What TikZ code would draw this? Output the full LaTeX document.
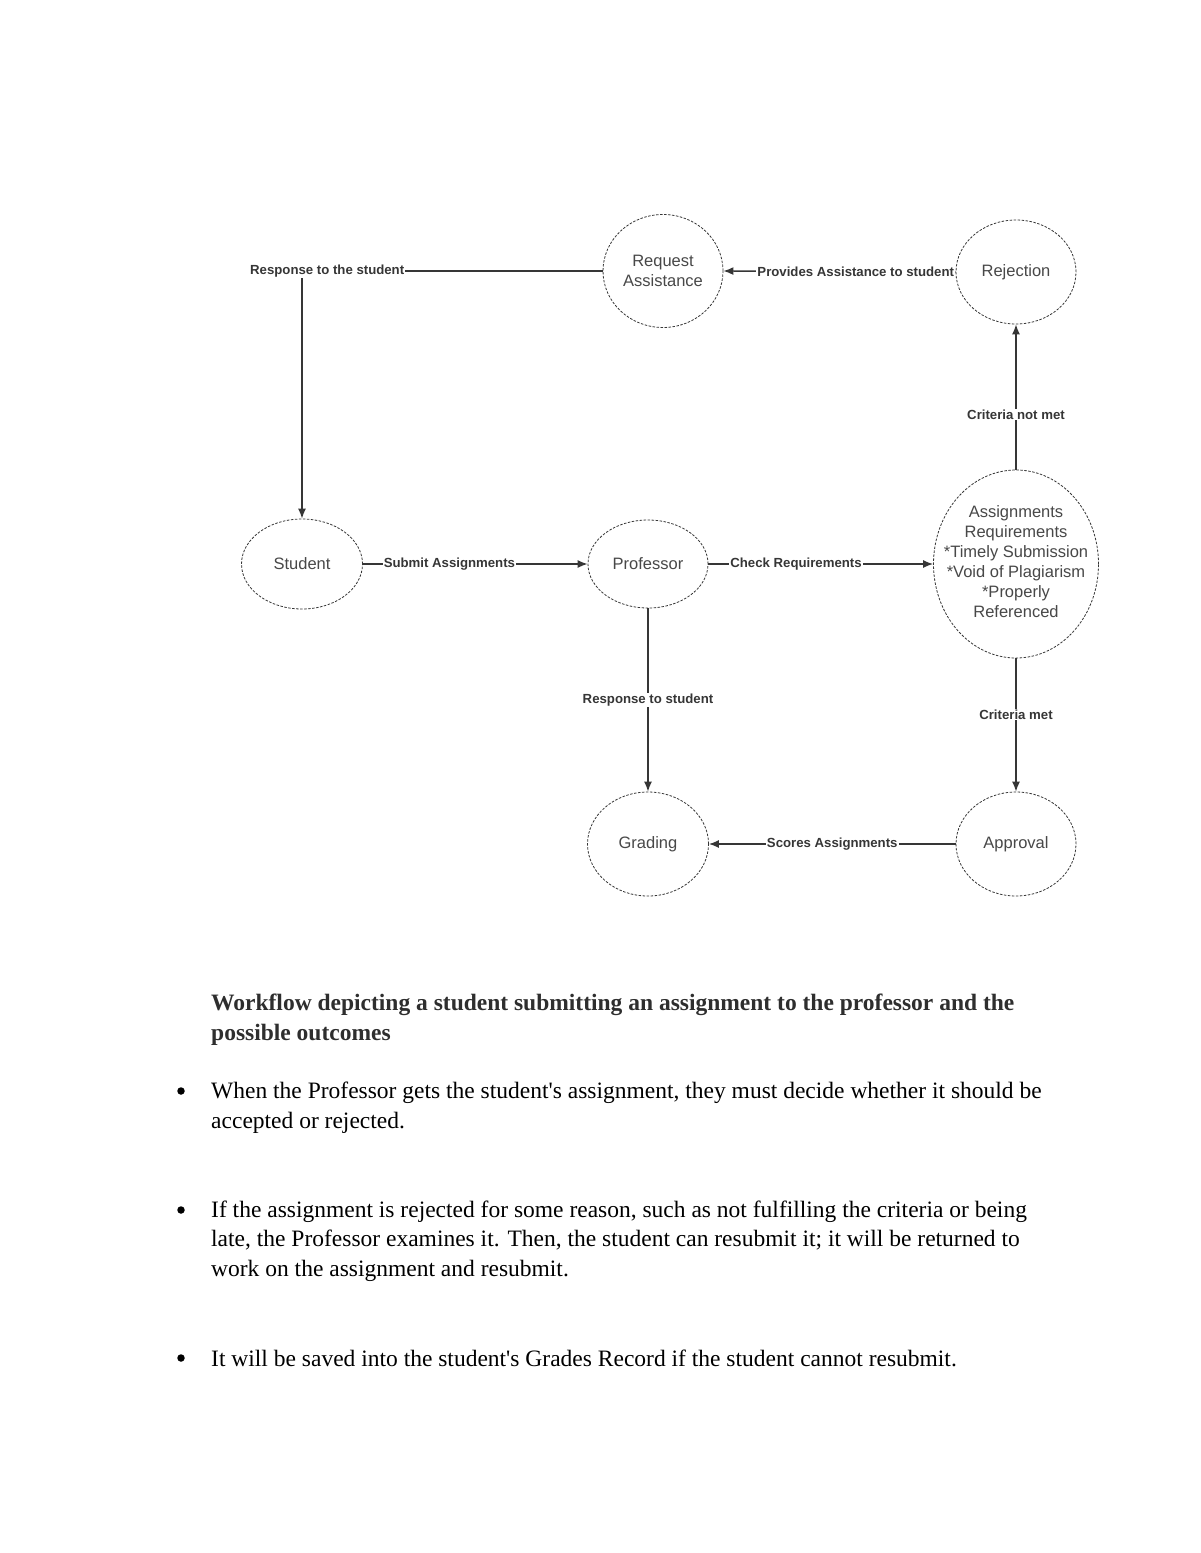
\documentclass[tikz,border=0pt]{standalone}
\usepackage{fontspec}
\setmainfont{Liberation Serif}[Ligatures=TeXOff]
\setsansfont{Liberation Sans}
\usetikzlibrary{shapes.geometric,arrows.meta}
\definecolor{ln}{HTML}{363636}
\definecolor{nodetxt}{HTML}{484848}
\tikzset{
  circ/.style={ellipse,draw=ln,dash pattern=on 2.5pt off 1.5pt,line width=0.8pt,inner sep=0pt},
  ctxt/.style={font=\sffamily\fontsize{16.5}{20}\selectfont,text=nodetxt,align=center,inner sep=0pt},
  conn/.style={draw=ln,line width=1.4pt},
  arr/.style={conn,-{Latex[length=10pt,width=8pt]}},
  elbl/.style={fill=white,inner sep=1pt,font=\sffamily\bfseries\fontsize{13.2}{15}\selectfont,text=ln},
  para/.style={anchor=base west,inner sep=0pt,font=\fontsize{23.5}{28}\selectfont,text=black},
  bul/.style={circle,fill=black,inner sep=0pt,minimum size=7.5pt}
}
\begin{document}
\begin{tikzpicture}[x=1pt,y=-1pt]
\useasboundingbox (0,0) rectangle (1200,1553);
\fill[white] (0,0) rectangle (1200,1553);
% nodes
\node[circ,minimum width=120pt,minimum height=113pt] (ra) at (663,271) {};
\node[ctxt] (rat) at (ra.center) {Request\\Assistance};
\node[circ,minimum width=120pt,minimum height=104pt] (rej) at (1016,272) {};
\node[ctxt] (rejt) at (rej.center) {Rejection};
\node[circ,minimum width=121pt,minimum height=90pt] (stu) at (302,564) {};
\node[ctxt] (stut) at (stu.center) {Student};
\node[circ,minimum width=120pt,minimum height=88pt] (prof) at (648,564) {};
\node[ctxt] (proft) at (prof.center) {Professor};
\node[circ,minimum width=165pt,minimum height=188pt] (req) at (1016,564) {};
\node[ctxt] (reqt) at (1016,562) {Assignments\\Requirements\\*Timely Submission\\*Void of Plagiarism\\*Properly\\Referenced};
\node[circ,minimum width=121pt,minimum height=104pt] (grd) at (648,844) {};
\node[ctxt] (grdt) at (grd.center) {Grading};
\node[circ,minimum width=120pt,minimum height=104pt] (app) at (1016,844) {};
\node[ctxt] (appt) at (app.center) {Approval};
% connectors
\node[elbl,anchor=west] (l1) at (249,271) {Response to the student};
\draw[conn] (ra.west) -- (l1.east);
\draw[arr] (l1.south -| stu.north) -- (stu.north);
\draw[arr] (rej.west) -- node[elbl,pos=0.43] (l2) {Provides Assistance to student} (ra.east);
\draw[arr] (req.north) -- node[elbl,pos=0.38] (l3) {Criteria not met} (rej.south);
\draw[arr] (stu.east) -- node[elbl,pos=0.385] (l4) {Submit Assignments} (prof.west);
\draw[arr] (prof.east) -- node[elbl,pos=0.39] (l5) {Check Requirements} (req.west);
\draw[arr] (prof.south) -- node[elbl,pos=0.5] (l6) {Response to student} (grd.north);
\draw[arr] (req.south) -- node[elbl,pos=0.42] (l7) {Criteria met} (app.north);
\draw[arr] (app.west) -- node[elbl,pos=0.5] (l8) {Scores Assignments} (grd.east);
% text
\node[para,font=\bfseries\fontsize{23.5}{28}\selectfont,text=black!82] (t1) at (211,1010) {Workflow depicting a student submitting an assignment to the professor and the};
\node[para,font=\bfseries\fontsize{23.5}{28}\selectfont,text=black!82] (t2) at (211,1040) {possible outcomes};
\node[bul] (b1) at (181,1091) {};
\node[para] (p1) at (211,1098) {When the Professor gets the student's assignment, they must decide whether it should be};
\node[para] (p2) at (211,1128) {accepted or rejected.};
\node[bul] (b2) at (181,1210) {};
\node[para] (p3) at (211,1217) {If the assignment is rejected for some reason, such as not fulfilling the criteria or being};
\node[para] (p4) at (211,1246) {late, the Professor examines it. Then, the student can resubmit it; it will be returned to};
\node[para] (p5) at (211,1276) {work on the assignment and resubmit.};
\node[bul] (b3) at (181,1358) {};
\node[para] (p6) at (211,1366) {It will be saved into the student's Grades Record if the student cannot resubmit.};
\end{tikzpicture}
\end{document}
